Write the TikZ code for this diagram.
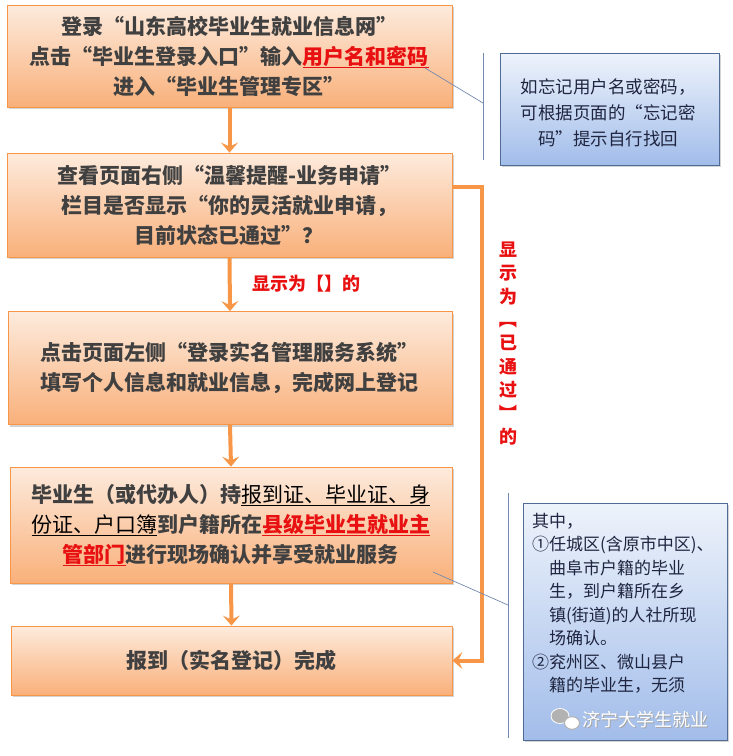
\documentclass[tikz,border=0pt]{standalone}
\usepackage{fontspec}
\setmainfont{Noto Sans CJK SC}
\newfontfamily\cjk{Noto Sans CJK SC}
\usetikzlibrary{shadows,arrows.meta,calc}
\definecolor{orangeM}{HTML}{F79646}
\definecolor{boxtop}{HTML}{FDEBDD}
\definecolor{boxbot}{HTML}{F9B07A}
\definecolor{textgray}{HTML}{404040}
\definecolor{calltop}{HTML}{EEF3FB}
\definecolor{callbot}{HTML}{A2BDEA}
\definecolor{callborder}{HTML}{4F6B96}
\definecolor{calltext}{HTML}{1F2540}
\definecolor{leader}{HTML}{7489AE}
\definecolor{redM}{HTML}{E81010}
\newcommand\hwred[1]{{\color{redM}\underline{#1}}}
\newcommand\hwblk[1]{{\color{black}\mdseries\underline{#1}}}
\newcommand\vbrk[1]{\rotatebox[origin=c]{-90}{#1}}
\begin{document}
\begin{tikzpicture}[x=1pt,y=-1pt,
  stepbox/.style={draw=orangeM, line width=0.8pt, top color=boxtop, bottom color=boxbot,
    drop shadow={shadow xshift=1.5pt, shadow yshift=-2pt, opacity=0.35},
    align=center, text=textgray, inner sep=0pt,
    font=\cjk\bfseries\fontsize{21pt}{30pt}\selectfont},
  callbox/.style={draw=callborder, line width=0.8pt, top color=calltop, bottom color=callbot,
    drop shadow={shadow xshift=1.5pt, shadow yshift=-2pt, opacity=0.35}, inner sep=0pt},
  flowarrow/.style={draw=orangeM, line width=4pt, -{Stealth[length=10pt,width=17pt,inset=4pt]}},
  leaderline/.style={draw=leader, line width=0.7pt},
  redlabel/.style={text=redM, font=\cjk\bfseries\fontsize{18pt}{23.4pt}\selectfont, align=center, inner sep=0pt}
]
\useasboundingbox (0,0) rectangle (732,756);

% main boxes
\node[stepbox, minimum width=445pt, minimum height=102pt] (b1) at (229.5,56)
  {登录“山东高校毕业生就业信息网”\\点击“毕业生登录入口”输入\hwred{用户名和密码}\\进入“毕业生管理专区”};
\node[stepbox, minimum width=445pt, minimum height=104pt] (b2) at (229.5,205)
  {查看页面右侧“温馨提醒-业务申请”\\栏目是否显示“你的灵活就业申请，\\目前状态已通过”？};
\node[stepbox, minimum width=444pt, minimum height=113pt] (b3) at (230,368)
  {点击页面左侧“登录实名管理服务系统”\\填写个人信息和就业信息，完成网上登记};
\node[stepbox, minimum width=442pt, minimum height=116pt] (b4) at (231,525)
  {毕业生（或代办人）持\hwblk{报到证、毕业证、身}\\\hwblk{份证、户口簿}到户籍所在\hwred{县级毕业生就业主}\\\hwred{管部门}进行现场确认并享受就业服务};
\node[stepbox, minimum width=441pt, minimum height=69pt] (b5) at (231.5,660.5)
  {报到（实名登记）完成};

% flow arrows
\draw[flowarrow] (b1.south) -- (b2.north);
\draw[flowarrow] (b2.south) -- (b3.north);
\draw[flowarrow] (b3.south) -- (b4.north);
\draw[flowarrow] (b4.south) -- (b5.north);
\node[redlabel] (lbl1) at (306,284) {显示为【】的};

% feedback path
\coordinate (fb1) at (482,187);
\coordinate (fb2) at (482,660.5);
\draw[flowarrow] ([yshift=18pt]b2.east) -- (fb1) -- (fb2) -- (b5.east);
\node[redlabel] (lbl2) at (508,343.5) {显\\示\\为\\\vbrk{【}\\已\\通\\过\\\vbrk{】}\\的};

% callout 1
\node[callbox, minimum width=219pt, minimum height=112pt] (c1) at (609.5,109) {};
\node[text=calltext, align=center, inner sep=0pt, font=\cjk\fontsize{17.5pt}{26pt}\selectfont] (c1t) at (608,113)
  {如忘记用户名或密码，\\可根据页面的“忘记密\\码”提示自行找回};
\coordinate (k1t) at (483,53);
\coordinate (k1b) at (483,160);
\coordinate (k1m) at (483,103);
\coordinate (c1s) at (425,68);
\draw[leaderline] (k1t) -- (k1b);
\draw[leaderline] (c1s) -- (k1m);

% callout 2
\node[callbox, minimum width=204pt, minimum height=237pt] (c2) at (625,621.5) {};
\node[text=calltext, align=left, inner sep=0pt, anchor=north west, font=\cjk\fontsize{17pt}{23.5pt}\selectfont] (c2t) at (532,513)
  {其中，\\①任城区(含原市中区)、\\\hspace*{17pt}曲阜市户籍的毕业\\\hspace*{17pt}生，到户籍所在乡\\\hspace*{17pt}镇(街道)的人社所现\\\hspace*{17pt}场确认。\\②兖州区、微山县户\\\hspace*{17pt}籍的毕业生，无须};
\coordinate (k2t) at (508,493);
\coordinate (k2b) at (508,738);
\coordinate (k2m) at (508,605);
\coordinate (c2s) at (433,572);
\draw[leaderline] (k2t) -- (k2b);
\draw[leaderline] (c2s) -- (k2m);

% watermark
\fill[gray!60, draw=white, line width=0.8pt] (560,716) ellipse (9pt and 7.5pt);
\fill[white, draw=gray!60, line width=1pt] (572,723) ellipse (7.5pt and 6.3pt);
\node[text=gray!70, font=\cjk\fontsize{18pt}{18pt}\selectfont, inner sep=0pt] (wm0) at (646,721) {济宁大学生就业};
\node[text=white, font=\cjk\fontsize{18pt}{18pt}\selectfont, inner sep=0pt] (wm) at (645,720) {济宁大学生就业};
\end{tikzpicture}
\end{document}
